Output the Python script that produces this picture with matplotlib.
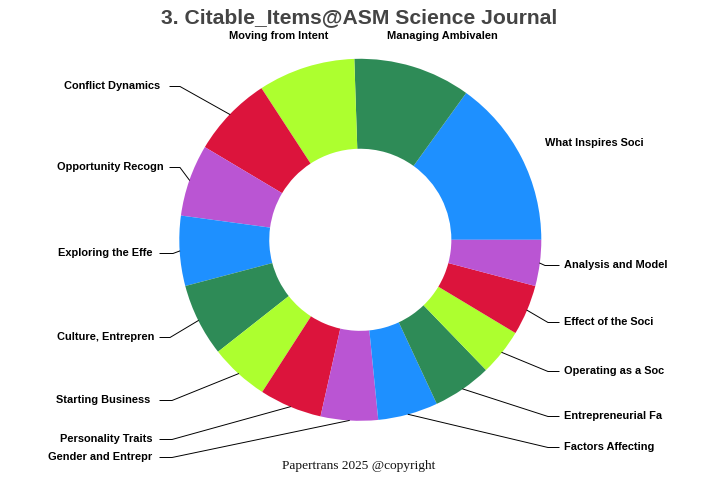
import numpy as np
import matplotlib.pyplot as plt

# slice labels (truncated titles) and their shares, counter-clockwise from 3 o'clock
titles = ["What Inspires Soci", "Managing Ambivalen", "Moving from Intent",
          "Conflict Dynamics", "Opportunity Recogn", "Exploring the Effe",
          "Culture, Entrepren", "Starting Business", "Personality Traits",
          "Gender and Entrepr", "Factors Affecting", "Entrepreneurial Fa",
          "Operating as a Soc", "Effect of the Soci", "Analysis and Model"]
counts = [54.2, 37.7, 31.2, 26.1, 23.1, 22.5, 23.4, 19.0, 20.1,
          18.4, 19.3, 19.0, 15.0, 16.2, 14.8]
palette = ["#1E90FF", "#2E8B57", "#ADFF2F", "#DC143C", "#BA55D3"]

# label layout in pixels from the top-left corner: text x, text y, line start x, elbow x
lab_x = [545, 442, 279, 160, 164, 153, 154, 150, 153, 152, 564, 564, 564, 564, 564]
lab_y = [143, 36, 36, 86, 167, 253, 337, 400, 439, 457, 447, 416, 371, 322, 265]
line_x0 = [None, None, None, 170, 170, 160, 160, 160, 160, 160, 559, 559, 559, 559, 559]
line_x1 = [None, None, None, 180, 180, 173, 170, 172, 172, 172, 548, 548, 548, 548, 545]

W, H = 720, 480
cx, cy, R = 360.3, 240.2, 181

fig = plt.figure(figsize=(7.2, 4.8), dpi=100)
ax = fig.add_axes([0, 0, 1, 1])

colors = [palette[i % len(palette)] for i in range(len(counts))]
wedges, _ = ax.pie(counts, colors=colors, startangle=0, counterclock=True,
                   center=(cx, cy), radius=R, frame=True,
                   wedgeprops=dict(width=R * 0.497, linewidth=0))
ax.set_xlim(0, W)
ax.set_ylim(0, H)
ax.set_aspect("equal")
ax.axis("off")

lab_font = dict(family="Liberation Sans", fontsize=7.9, fontweight="bold", color="black")
for i, w in enumerate(wedges):
    ty = H - lab_y[i]
    if line_x0[i] is None:
        ha = "left" if i == 0 else "center"
        ax.text(lab_x[i], ty, titles[i], ha=ha, va="center", **lab_font)
        continue
    mid = np.deg2rad((w.theta1 + w.theta2) / 2)
    ex, ey = cx + R * np.cos(mid), cy + R * np.sin(mid)
    ly = ty - 0.5
    ax.plot([line_x0[i], line_x1[i], ex], [ly, ly, ey], color="black", lw=0.7)
    ha = "left" if lab_x[i] > cx else "right"
    ax.text(lab_x[i], ty, titles[i], ha=ha, va="center", **lab_font)

ax.text(359, H - 18, "3. Citable_Items@ASM Science Journal", ha="center", va="center",
        family="Liberation Sans", fontsize=15.2, fontweight="bold", color="#444444")
ax.text(359, H - 466, "Papertrans 2025 @copyright", ha="center", va="center",
        family="Liberation Serif", fontsize=9.6, color="#111111")

fig.savefig("out.png", dpi=100)
